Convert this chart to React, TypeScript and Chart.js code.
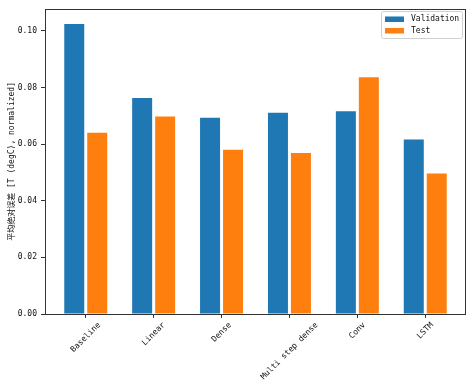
import React, { useEffect, useRef } from "react";
import { Chart, registerables } from "chart.js";

Chart.register(...registerables);

const categories = ["Baseline", "Linear", "Dense", "Multi step dense", "Conv", "LSTM"];
const validationValues = [0.1024, 0.0763, 0.0693, 0.0711, 0.0716, 0.0616];
const testValues = [0.0640, 0.0698, 0.0580, 0.0569, 0.0836, 0.0496];
const seriesNames = ["Validation", "Test"];
const seriesColors = ["#1f77b4", "#ff7f0e"];
const yTitle = "平均绝对误差 [T (degC), normalized]";

const FONT = '"DejaVu Sans Mono", "Liberation Mono", "Noto Sans CJK SC", monospace';
const TEXT = "#111111";
const AXIS = "#333333";

const framePlugin = {
  id: "frame",
  afterDraw(chart: any) {
    const { ctx, chartArea } = chart;
    const { left, right, top, bottom } = chartArea;
    ctx.save();
    ctx.strokeStyle = AXIS;
    ctx.lineWidth = 1;
    ctx.strokeRect(Math.round(left) + 0.5, Math.round(top) + 0.5, Math.round(right - left) - 1, Math.round(bottom - top));
    ctx.restore();
  },
};

const xLabelPlugin = {
  id: "xlabels",
  afterDraw(chart: any) {
    const { ctx, chartArea } = chart;
    const xs = chart.scales.x;
    ctx.save();
    ctx.font = `8px ${FONT}`;
    ctx.fillStyle = TEXT;
    ctx.textAlign = "center";
    ctx.textBaseline = "middle";
    const s = Math.SQRT1_2;
    const fh = 8;
    categories.forEach((label, i) => {
      const x = xs.getPixelForValue(i);
      const w = ctx.measureText(label).width;
      const h = (w + fh) * s;
      const topY = chartArea.bottom + 7;
      const cy = topY + h / 2;
      ctx.save();
      ctx.translate(x, cy);
      ctx.rotate(-Math.PI / 4);
      ctx.fillText(label, 0, 0);
      ctx.restore();
    });
    ctx.restore();
  },
};

const legendPlugin = {
  id: "innerLegend",
  afterDraw(chart: any) {
    const { ctx } = chart;
    const bx = 381, by = 11, bw = 81, bh = 27;
    ctx.save();
    ctx.fillStyle = "rgba(255,255,255,0.85)";
    ctx.strokeStyle = "#d0d0d0";
    ctx.lineWidth = 1;
    ctx.beginPath();
    (ctx as any).roundRect(bx + 0.5, by + 0.5, bw, bh, 2);
    ctx.fill();
    ctx.stroke();
    ctx.font = `8px ${FONT}`;
    ctx.textAlign = "left";
    ctx.textBaseline = "middle";
    chart.data.datasets.forEach((ds: any, i: number) => {
      const cy = by + 8 + i * 11.5;
      ctx.fillStyle = ds.backgroundColor;
      ctx.fillRect(bx + 4, cy - 2.5, 19, 5.5);
      ctx.fillStyle = TEXT;
      ctx.fillText(ds.label, bx + 30, cy);
    });
    ctx.restore();
  },
};

export default function App() {
  const canvasRef = useRef<HTMLCanvasElement | null>(null);

  useEffect(() => {
    if (!canvasRef.current) return;
    const datasets = [validationValues, testValues].map((vals, si) => ({
      label: seriesNames[si],
      data: vals.map((v, i) => ({ x: i, y: v })),
      backgroundColor: seriesColors[si],
      borderWidth: 0,
      categoryPercentage: 0.677,
      barPercentage: 0.87,
    }));
    const chart = new Chart(canvasRef.current, {
      type: "bar",
      data: { datasets },
      plugins: [framePlugin, xLabelPlugin, legendPlugin],
      options: {
        animation: false,
        responsive: true,
        maintainAspectRatio: false,
        layout: { padding: { top: 6, right: 8, left: 0, bottom: 0 } },
        plugins: {
          legend: { display: false },
          tooltip: { enabled: false },
        },
        scales: {
          x: {
            type: "linear",
            min: -0.6,
            max: 5.6,
            offset: false,
            afterBuildTicks: (scale: any) => {
              scale.ticks = categories.map((_, i) => ({ value: i }));
            },
            afterFit: (scale: any) => {
              scale.height = 73;
            },
            grid: {
              display: true,
              offset: false,
              drawOnChartArea: false,
              drawTicks: true,
              tickLength: 4,
              color: AXIS,
            },
            border: { display: false },
            ticks: { display: false },
          },
          y: {
            type: "linear",
            min: 0,
            max: 0.1078,
            afterFit: (scale: any) => {
              scale.width = 45;
            },
            grid: {
              display: true,
              drawOnChartArea: false,
              drawTicks: true,
              tickLength: 4,
              color: AXIS,
            },
            border: { display: false },
            ticks: {
              stepSize: 0.02,
              includeBounds: false,
              padding: 4,
              color: TEXT,
              font: { family: FONT, size: 8 },
              callback: (v: any) => Number(v).toFixed(2),
            },
            title: {
              display: true,
              text: yTitle,
              color: TEXT,
              font: { family: FONT, size: 8 },
              padding: { top: 7, bottom: 0 },
            },
          },
        },
      } as any,
    });
    return () => chart.destroy();
  }, []);

  return (
    <div style={{ position: "fixed", left: 0, top: 0, width: 474, height: 387, background: "#fff" }}>
      <canvas ref={canvasRef} />
    </div>
  );
}
